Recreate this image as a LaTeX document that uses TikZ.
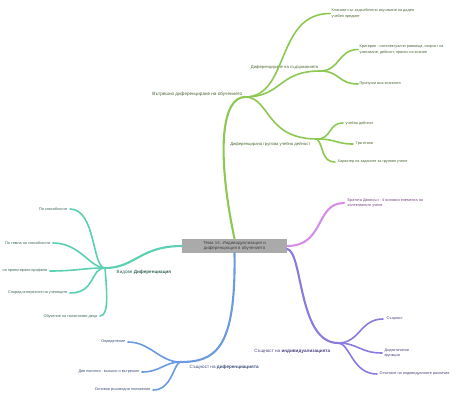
\documentclass[tikz,border=0pt]{standalone}
\usepackage{fontspec}
\setmainfont{Liberation Sans}
\definecolor{grn}{HTML}{8DC853}
\definecolor{teal}{HTML}{5BD0B2}
\definecolor{blu}{HTML}{6C9AE0}
\definecolor{prp}{HTML}{8C7BDE}
\definecolor{pnk}{HTML}{D68EE6}
\definecolor{boxgray}{HTML}{AAAAAA}
\definecolor{txtgrn}{HTML}{4A6630}
\definecolor{txttea}{HTML}{36645A}
\definecolor{txtblu}{HTML}{3C4E78}
\definecolor{txtprp}{HTML}{4C4180}
\definecolor{txtpnk}{HTML}{74407E}

\begin{document}
\begin{tikzpicture}[x=1pt, y=-1pt,
    branch/.style={line width=2.1pt, line cap=round},
    twig/.style={line width=1.6pt, line cap=round},
    topic/.style={font=\fontsize{4.6}{5.4}\selectfont, inner sep=0.5pt, align=left},
    subtopic/.style={font=\fontsize{4.2}{5}\selectfont, inner sep=0.5pt, align=left},
    leaf/.style={font=\fontsize{3.8}{5.4}\selectfont, inner sep=0.5pt, align=left}]
    \useasboundingbox (0,0) rectangle (474,402);
    \fill[white] (0,0) rectangle (474,402);

    % central node
    \node[fill=boxgray, minimum width=105pt, minimum height=14pt, inner sep=0pt,
          align=center, font=\fontsize{4.4}{5.2}\selectfont, text=black!75] (tema) at (234.5,246)
        {Тема 14. Индивидуализация и\\ диференциация в обучението};

    % hubs
    \coordinate (vhub) at (245,97);
    \coordinate (shub) at (320,71);
    \coordinate (ghub) at (317,139);
    \coordinate (whub) at (105,268);
    \coordinate (dhub) at (180,362);
    \coordinate (ihub) at (338,343);
    \coordinate (bend) at (344,203);

    % green -- inner differentiation
    \draw[branch, grn] (tema.north) .. controls (216,150) and (222,97) .. (vhub);
    \node[topic, text=txtgrn, anchor=base east] (vtr) at (243,95) {Вътрешно диференциране на обучението};
    \draw[twig, grn] (vhub) .. controls (282,97) and (278,71) .. (shub);
    \draw[twig, grn] (vhub) .. controls (270,97) and (265,139) .. (ghub);
    \node[subtopic, text=txtgrn, anchor=base east] (sdr) at (319,68.5) {Диференциране на съдържанието};
    \node[subtopic, text=txtgrn, anchor=base east] (grp) at (311,145) {Диференцирана групова учебна дейност};

    \coordinate (e1) at (330,13.5);
    \coordinate (e2) at (358,49.5);
    \coordinate (e3) at (358,84);
    \draw[twig, grn] (vhub) .. controls (290,97) and (275,13.5) .. (e1);
    \draw[twig, grn] (shub) .. controls (340,71) and (338,49.5) .. (e2);
    \draw[twig, grn] (shub) .. controls (340,71) and (338,84) .. (e3);
    \node[leaf, text=txtgrn, anchor=west] (klas) at (331,13.5) {Класове със задълбочено изучаване на даден\\ учебен предмет};
    \node[leaf, text=txtgrn, anchor=west] (krit) at (359,49.5) {Критерии - интелектуални равнища, скорост на\\ усвояване, дейност, принос на знания};
    \node[leaf, text=txtgrn, anchor=west] (prop) at (359,84) {Пропуски във знанията};

    \coordinate (e4) at (343,123);
    \coordinate (e5) at (353,144);
    \coordinate (e6) at (335,162);
    \draw[twig, grn] (ghub) .. controls (332,139) and (328,123) .. (e4);
    \draw[twig, grn] (ghub) .. controls (336,139) and (336,144) .. (e5);
    \draw[twig, grn] (ghub) .. controls (324,146) and (321,162) .. (e6);
    \node[leaf, text=txtgrn, anchor=west] (ucheb) at (345,123) {учебна дейност};
    \node[leaf, text=txtgrn, anchor=west] (tri) at (355,144) {Три етапа};
    \node[leaf, text=txtgrn, anchor=west] (har) at (337,162) {Характер на задачите за групово учене};

    % teal -- kinds of differentiation
    \draw[branch, teal] (tema.west) .. controls (140,246) and (135,268) .. (whub);
    \node[topic, text=txttea, anchor=base west] (vid) at (116,273) {Видове \textbf{Диференциация}};
    \coordinate (t1) at (70,209);
    \coordinate (t2) at (53,243);
    \coordinate (t3) at (50,271);
    \coordinate (t4) at (70,293);
    \coordinate (t5) at (100,316);
    \draw[twig, teal] (whub) .. controls (92,268) and (96,209) .. (t1);
    \draw[twig, teal] (whub) .. controls (90,268) and (80,243) .. (t2);
    \draw[twig, teal] (whub) .. controls (85,268) and (75,271) .. (t3);
    \draw[twig, teal] (whub) .. controls (90,268) and (96,293) .. (t4);
    \draw[twig, teal] (whub) .. controls (107,292) and (109,316) .. (t5);
    \node[leaf, text=txttea, anchor=east] (sposob) at (68,209) {По способности};
    \node[leaf, text=txttea, anchor=east] (tempa) at (51,243) {По темпа на способности};
    \node[leaf, text=txttea, anchor=east] (prof) at (48,271) {по проектирани профили};
    \node[leaf, text=txttea, anchor=east] (inter) at (68,293) {Според интересите на учениците};
    \node[leaf, text=txttea, anchor=east] (talant) at (98,316) {Обучение на талантливи деца};

    % pink -- Johnson
    \draw[branch, pnk] (tema.east) .. controls (325,246) and (315,203) .. (bend);
    \node[leaf, text=txtpnk, anchor=west] (dzh) at (347,203) {Братята Джонсън - 4 основни елемента на\\ колективното учене};

    % blue -- nature of differentiation
    \draw[branch, blu] (tema.south) .. controls (236,350) and (215,362) .. (dhub);
    \node[topic, text=txtblu, anchor=base west] (sdif) at (189,368) {Същност на \textbf{диференциацията}};
    \coordinate (b1) at (128,342);
    \coordinate (b2) at (142,372);
    \coordinate (b3) at (153,390);
    \draw[twig, blu] (dhub) .. controls (160,362) and (150,342) .. (b1);
    \draw[twig, blu] (dhub) .. controls (165,362) and (160,372) .. (b2);
    \draw[twig, blu] (dhub) .. controls (173,365) and (172,390) .. (b3);
    \node[leaf, text=txtblu, anchor=east] (opr) at (126,342) {Определение};
    \node[leaf, text=txtblu, anchor=east] (dve) at (140,372) {Две понятия - външно и вътрешно};
    \node[leaf, text=txtblu, anchor=east] (osn) at (151,390) {Основни ръководни положения};

    % purple -- nature of individualisation
    \draw[branch, prp] ([yshift=-3pt]tema.east) .. controls (303,252) and (298,343) .. (ihub);
    \node[topic, text=txtprp, anchor=base east] (sind) at (331,352) {Същност на \textbf{индивидуализацията}};
    \coordinate (p1) at (383,319);
    \coordinate (p2) at (382,353);
    \coordinate (p3) at (377,374);
    \draw[twig, prp] (ihub) .. controls (360,343) and (360,319) .. (p1);
    \draw[twig, prp] (ihub) .. controls (358,343) and (360,353) .. (p2);
    \draw[twig, prp] (ihub) .. controls (350,343) and (352,374) .. (p3);
    \node[leaf, text=txtprp, anchor=west] (sasht) at (386,319) {Същност};
    \node[leaf, text=txtprp, anchor=west] (did) at (384,353) {Дидактически\\ функции};
    \node[leaf, text=txtprp, anchor=west] (otch) at (379,374) {Отчитане на индивидуалните различия};
\end{tikzpicture}
\end{document}
